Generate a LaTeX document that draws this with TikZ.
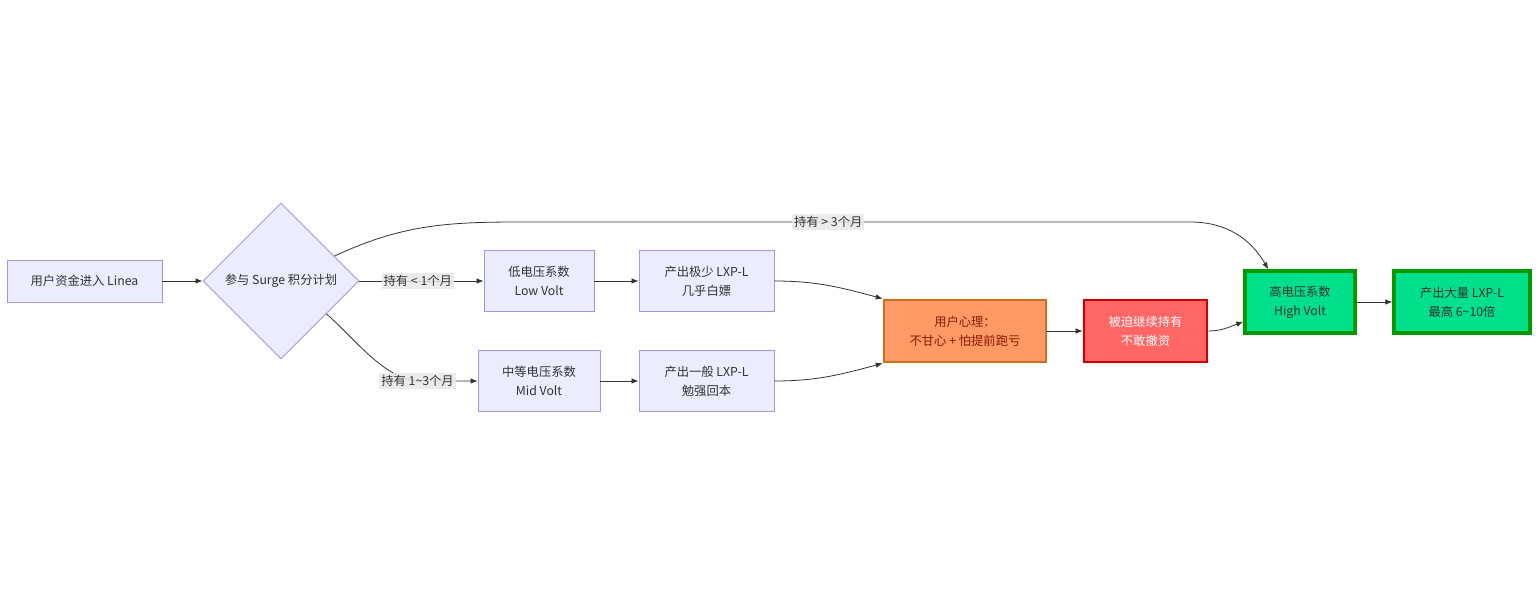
\documentclass[tikz,border=0pt]{standalone}
\usepackage{fontspec}
\setmainfont{Noto Sans CJK SC}
\usepackage{tikz}
\usetikzlibrary{shapes.geometric,arrows.meta}

\definecolor{boxfill}{HTML}{ECECFF}
\definecolor{boxline}{HTML}{A896DC}
\definecolor{edgecol}{HTML}{333333}
\definecolor{lblgray}{HTML}{E8E8E8}
\definecolor{psyfill}{HTML}{FF9966}
\definecolor{psyline}{HTML}{CC6E1F}
\definecolor{psytext}{HTML}{8B1A00}
\definecolor{lockfill}{HTML}{FF6666}
\definecolor{lockline}{HTML}{CC0000}
\definecolor{highfill}{HTML}{00E08A}
\definecolor{highline}{HTML}{009A00}

\begin{document}
\begin{tikzpicture}[->,>={Latex[length=7pt,width=5.5pt]},x=1pt,y=1pt,node distance=167.5pt,
                    draw=edgecol,line width=0.8pt,
                    every node/.style={font=\fontsize{12.3}{19}\selectfont,align=center,text=edgecol},
                    box/.style={rectangle,draw=boxline,fill=boxfill,line width=0.9pt,inner sep=0pt,minimum height=61pt},
                    decision/.style={diamond,draw=boxline,fill=boxfill,line width=0.9pt,inner sep=0pt,aspect=1,minimum width=156pt,minimum height=156pt},
                    psy box/.style={rectangle,draw=psyline,fill=psyfill,line width=2.6pt,inner sep=0pt,minimum height=62pt,minimum width=162pt,text=psytext},
                    lock box/.style={rectangle,draw=lockline,fill=lockfill,line width=2.6pt,inner sep=0pt,minimum height=62pt,minimum width=123pt,text=white},
                    high box/.style={rectangle,draw=highline,fill=highfill,line width=3.4pt,inner sep=0pt,minimum height=62pt},
                    lbl/.style={fill=lblgray,fill opacity=0.85,text opacity=1,inner sep=2pt,font=\fontsize{12.3}{14}\selectfont}]
  \useasboundingbox (0,0) rectangle (1536,614);

  \node[box,minimum height=42pt,minimum width=155pt] (entry) at (84.5,333) {用户资金进入 Linea};
  \node[decision] (plan) [right of=entry,node distance=196.5pt] {参与 Surge 积分计划};
  \node[box,minimum width=110pt] (low) [right of=plan,node distance=258pt] {低电压系数\\Low Volt};
  \node[box,minimum width=122pt] (mid) [below of=low,node distance=100pt] {中等电压系数\\Mid Volt};
  \node[box,minimum width=135pt] (lowout) [right of=low] {产出极少 LXP-L\\几乎白嫖};
  \node[box,minimum width=135pt] (midout) [right of=mid] {产出一般 LXP-L\\勉强回本};
  \node[psy box] (psy) at (965,283) {用户心理：\\不甘心 + 怕提前跑亏};
  \node[lock box] (lock) [right of=psy,node distance=180.5pt] {被迫继续持有\\不敢撤资};
  \node[high box,minimum width=110pt] (high) at (1300,312) {高电压系数\\High Volt};
  \node[high box,minimum width=136pt] (highout) [right of=high,node distance=162pt] {产出大量 LXP-L\\最高 6\textasciitilde10倍};

  \coordinate (topL) at (520,392);
  \coordinate (topR) at (1190,392);

  \draw (entry) -- (plan);
  \draw (plan) -- node[lbl,pos=0.47] {持有 < 1个月} (low);
  \draw (plan.-36) to[out=-40,in=175,looseness=0.8] ([xshift=-60pt]mid.west) node[lbl] {持有 1\textasciitilde3个月} -- (mid);
  \draw (plan.25) to[out=25,in=180] (topL) -- node[lbl,pos=0.46] {持有 > 3个月} (topR)
        to[out=0,in=120] ([xshift=25pt]high.north west);
  \draw (low) -- (lowout);
  \draw (mid) -- (midout);
  \draw (lowout.east) to[out=0,in=165] (psy.north west);
  \draw (midout.east) to[out=0,in=195] (psy.south west);
  \draw (psy) -- (lock);
  \draw (lock.east) to[out=0,in=200] ([yshift=13pt]high.south west);
  \draw (high) -- (highout);
\end{tikzpicture}
\end{document}
